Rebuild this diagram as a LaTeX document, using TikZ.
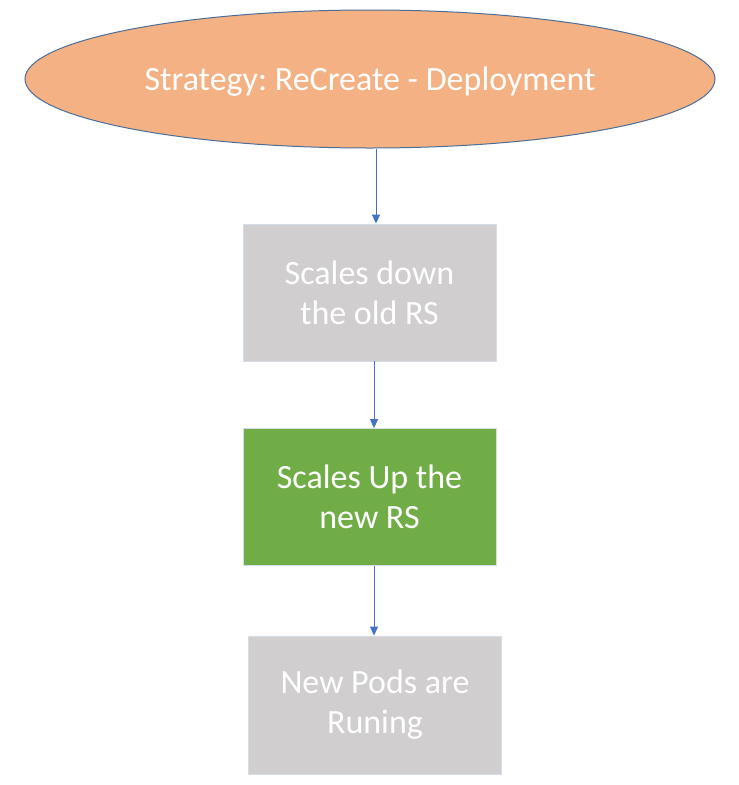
\documentclass[tikz,border=0pt]{standalone}
\usepackage{fontspec}
\setmainfont{Carlito}
\usetikzlibrary{arrows.meta,shapes.geometric}
\definecolor{peach}{HTML}{F4B183}
\definecolor{rim}{HTML}{4A6E9A}
\definecolor{stone}{HTML}{D0CECE}
\definecolor{leaf}{HTML}{70AD47}
\definecolor{link}{HTML}{4472C4}
\definecolor{edge}{HTML}{D6DCE8}
\frenchspacing
\begin{document}
\begin{tikzpicture}[x=1pt,y=-1pt,font=\fontsize{34}{40}\selectfont,
  stepbox/.style={rectangle,draw=edge,line width=.8pt,minimum width=253pt,minimum height=137pt,align=center,text=white},
  flow/.style={draw=link,line width=.9pt,-{Triangle[length=9pt,width=8pt]}}]
\useasboundingbox(0,0)rectangle(739,785);
\node[ellipse,draw=rim,line width=1pt,fill=peach,minimum width=690pt,minimum height=138pt,inner sep=0pt](strat)at(370,79){};
\node[text=white](title)at(370,82){Strategy: ReCreate - Deployment};
\node[stepbox,fill=stone](down)at(369.5,292.5){Scales down\\the old RS};
\node[stepbox,fill=leaf](up)at(369.5,497){Scales Up the\\new RS};
\node[stepbox,fill=stone,minimum height=138pt](pods)at(375,705){New Pods are\\Runing};
\draw[flow](376,148.5)coordinate(s1)--(s1|-down.north);
\draw[flow](down.south-|374,0)--(up.north-|374,0);
\draw[flow](up.south-|374,0)--(pods.north-|374,0);
\end{tikzpicture}
\end{document}
